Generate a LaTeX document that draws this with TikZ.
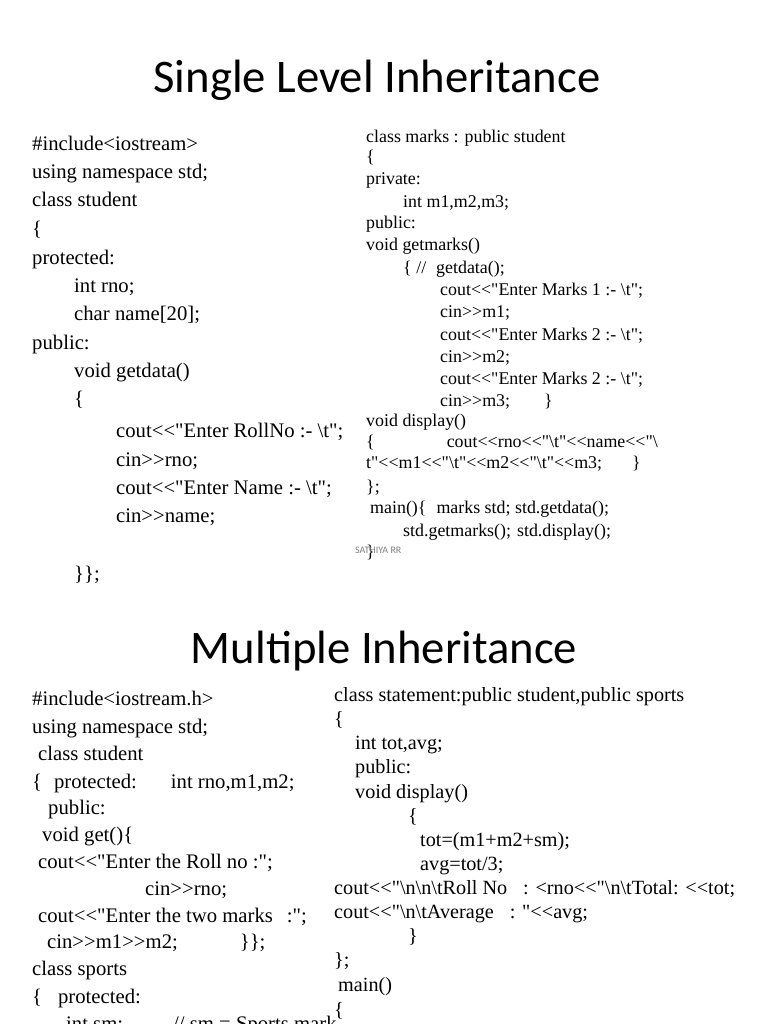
\documentclass[tikz,border=0pt]{standalone}
\usepackage{fontspec}
\newfontfamily\codef{Liberation Serif}
\newfontfamily\titlef{Carlito}
\newfontfamily\smallf{Carlito}
\newcommand\bs{\textbackslash}
\begin{document}
\begin{tikzpicture}[x=1pt,y=-1pt,
  ln/.style={anchor=base west,inner sep=0pt,font=\codef\fontsize{20.7}{20.7}\selectfont},
  lr/.style={anchor=base west,inner sep=0pt,font=\codef\fontsize{17.9}{17.9}\selectfont},
  lb/.style={anchor=base west,inner sep=0pt,font=\codef\fontsize{20.2}{20.2}\selectfont},
  ttl/.style={inner sep=0pt,font=\titlef\fontsize{46.7}{46.7}\selectfont}]
\useasboundingbox[fill=white] (0,0) rectangle (768,1024);
\node[ttl] (t1) at (377,80) {Single Level Inheritance};
\begin{scope}
\clip (0,0) rectangle (768,582);
\node[ln] (a1) at (32,151) {\#include<iostream>};
\node[ln] (a2) at (32,179) {using namespace std;};
\node[ln] (a3) at (32,207) {class student};
\node[ln] (a4) at (32,236) {\{};
\node[ln] (a5) at (32,264) {protected:};
\node[ln] (a6) at (74,292) {int rno;};
\node[ln] (a7) at (74,320) {char name[20];};
\node[ln] (a8) at (32,349) {public:};
\node[ln] (a9) at (74,377) {void getdata()};
\node[ln] (a10) at (74,405) {\{};
\node[ln] (a11) at (116,437) {cout<<"Enter RollNo :- \bs t";};
\node[ln] (a12) at (116,466) {cin>>rno;};
\node[ln] (a13) at (116,494) {cout<<"Enter Name :- \bs t";};
\node[ln] (a14) at (116,522) {cin>>name;};
\node[ln] (a15) at (74,580) {\}\};};
\node[lr] (b1) at (366,143) {class marks : public student};
\node[lr] (b2) at (366,163) {\{};
\node[lr] (b3) at (366,185) {private:};
\node[lr] (b4) at (403,208) {int m1,m2,m3;};
\node[lr] (b5) at (366,229) {public:};
\node[lr] (b6) at (366,251) {void getmarks()};
\node[lr] (b7) at (403,273) {\{ //\hspace{10pt}getdata();};
\node[lr] (b8) at (440,295) {cout<<"Enter Marks 1 :- \bs t";};
\node[lr] (b9) at (440,317) {cin>>m1;};
\node[lr] (b10) at (440,340) {cout<<"Enter Marks 2 :- \bs t";};
\node[lr] (b11) at (440,362) {cin>>m2;};
\node[lr] (b12) at (440,384) {cout<<"Enter Marks 2 :- \bs t";};
\node[lr] (b13) at (440,406) {cin>>m3;\hspace{34pt}\}};
\node[lr] (b14) at (366,426) {void display()};
\node[lr] (b15) at (366,447) {\{\hspace{72pt}cout<<rno<<"\bs t"<<name<<"\bs};
\node[lr] (b16) at (366,468) {t"<<m1<<"\bs t"<<m2<<"\bs t"<<m3;\hspace{30pt}\}};
\node[lr] (b17) at (366,492) {\};};
\node[lr] (b18) at (370,513) {main()\{\hspace{10pt}marks std; std.getdata();};
\node[lr] (b19) at (403,536) {std.getmarks();\hspace{6pt}std.display();};
\node[lr] (b20) at (366,557) {\}};
\node[anchor=base west,inner sep=0pt,font=\smallf\fontsize{10}{10}\selectfont,text=gray] (w) at (355,553) {SATHIYA RR};
\end{scope}
\node[ttl] (t2) at (384,651) {Multiple Inheritance};
\node[ln] (c1) at (32,705) {\#include<iostream.h>};
\node[ln] (c2) at (32,733) {using namespace std;};
\node[ln] (c3) at (38,760) {class student};
\node[ln] (c4) at (32,788) {\{\hspace{12pt}protected:\hspace{34pt}int rno,m1,m2;};
\node[ln] (c5) at (48,814) {public:};
\node[ln] (c6) at (42,841) {void get()\{};
\node[ln] (c7) at (38,868) {cout<<"Enter the Roll no :";};
\node[ln] (c8) at (145,895) {cin>>rno;};
\node[ln] (c9) at (38,922) {cout<<"Enter the two marks\hspace{14pt}:";};
\node[ln] (c10) at (47,948) {cin>>m1>>m2;\hspace{62pt}\}\};};
\node[ln] (c11) at (32,975) {class sports};
\node[ln] (c12) at (32,1003) {\{\hspace{16pt}protected:};
\node[ln] (c13) at (66,1030) {int sm;\hspace{50pt}// sm = Sports mark};
\node[lb] (d1) at (334,701) {class statement:public student,public sports};
\node[lb] (d2) at (334,725) {\{};
\node[lb] (d3) at (355,749) {int tot,avg;};
\node[lb] (d4) at (355,773) {public:};
\node[lb] (d5) at (355,798) {void display()};
\node[lb] (d6) at (408,822) {\{};
\node[lb] (d7) at (420,846) {tot=(m1+m2+sm);};
\node[lb] (d8) at (420,870) {avg=tot/3;};
\node[lb] (d9) at (334,894) {cout<<"\bs n\bs n\bs tRoll No\hspace{16pt}: <rno<<"\bs n\bs tTotal: <<tot;};
\node[lb] (d10) at (334,918) {cout<<"\bs n\bs tAverage\hspace{16pt}: "<<avg;};
\node[lb] (d11) at (408,942) {\}};
\node[lb] (d12) at (334,966) {\};};
\node[lb] (d13) at (338,991) {main()};
\node[lb] (d14) at (334,1016) {\{};
\end{tikzpicture}
\end{document}
